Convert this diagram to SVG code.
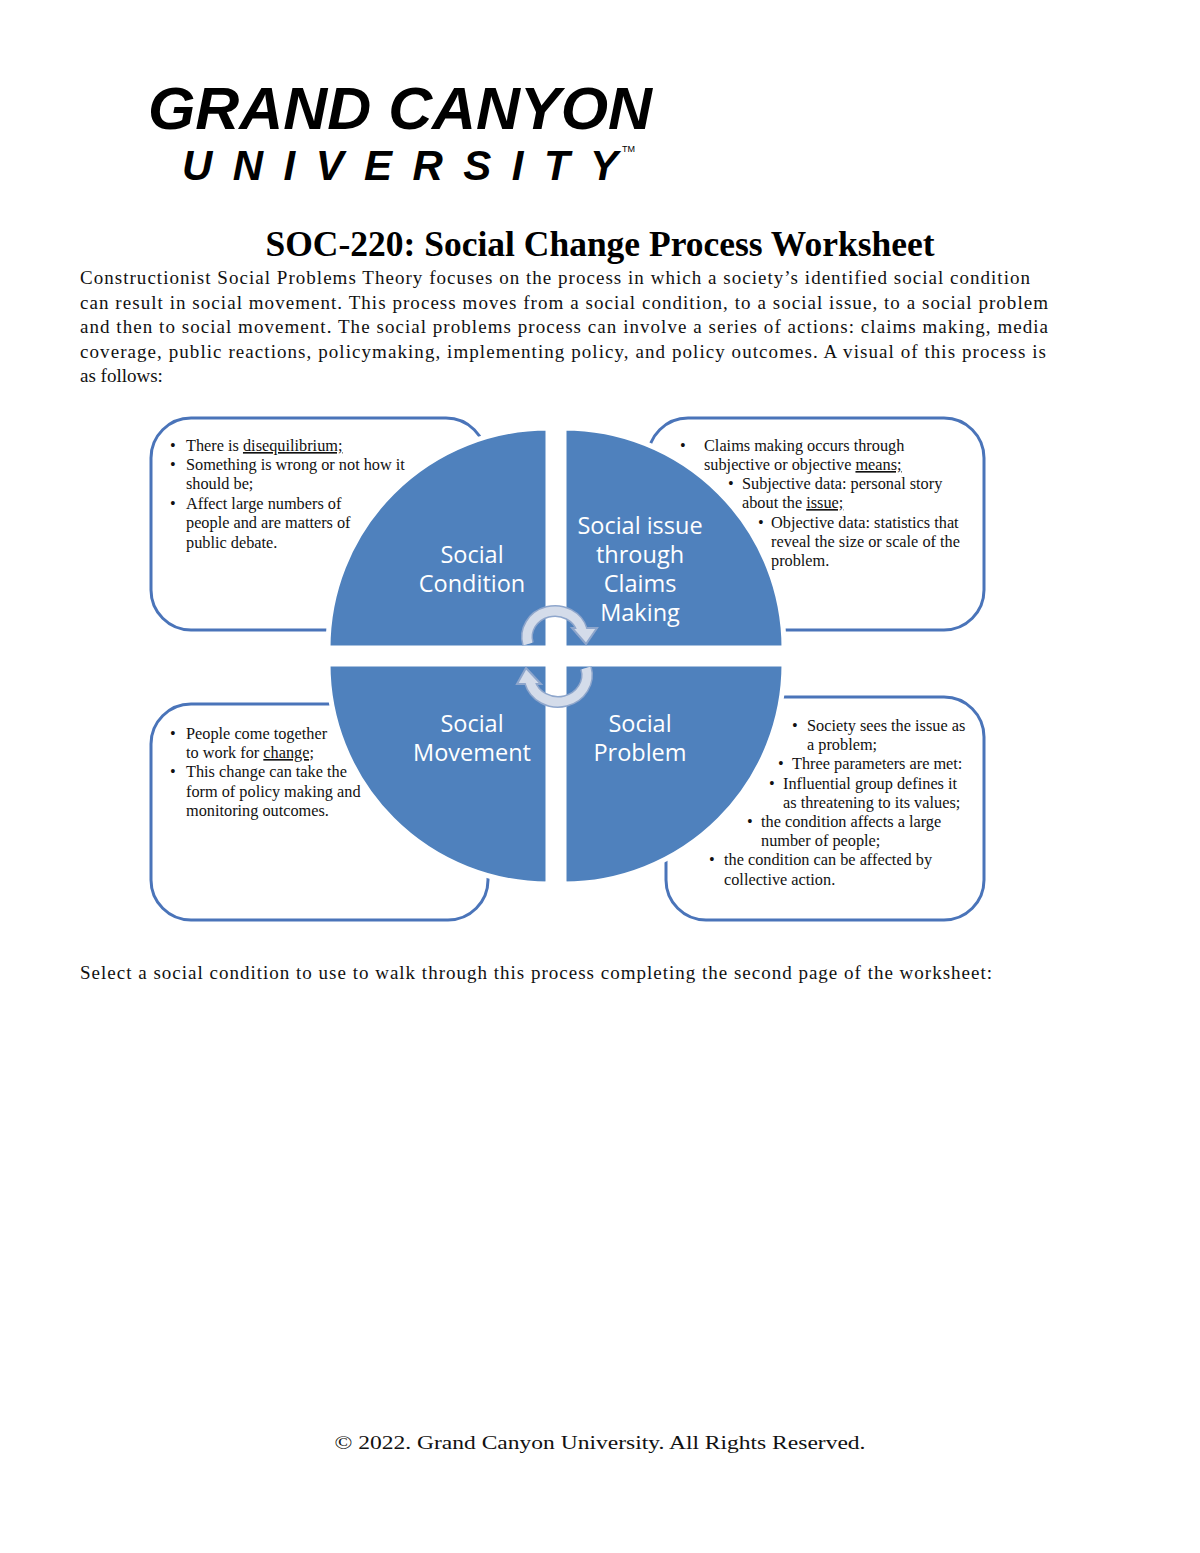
<svg xmlns="http://www.w3.org/2000/svg" width="1200" height="1553" viewBox="0 0 1200 1553">
<style>
.p{font-family:"Liberation Serif",serif;font-size:19px;fill:#111}
.b{font-family:"Liberation Serif",serif;font-size:16.3px;fill:#111}
.q{font-family:"Open Sans","Noto Sans",sans-serif;font-size:23.5px;fill:#fff;text-anchor:middle}
.box{fill:#fff;stroke:#4a74b9;stroke-width:3}
.quad{fill:#4f81bd;stroke:#fff;stroke-width:5}
.arr{fill:none;stroke:#d4dcea;stroke-width:9}
.arro{fill:none;stroke:#8ea6cc;stroke-width:12}
.u{text-decoration:underline}
</style>
<rect width="1200" height="1553" fill="#fff"/>
<g id="logo">
<text x="148" y="129" font-family="Liberation Sans,sans-serif" font-weight="bold" font-style="italic" font-size="60" textLength="504" lengthAdjust="spacingAndGlyphs">GRAND CANYON</text>
<text x="182" y="180" font-family="Liberation Sans,sans-serif" font-weight="bold" font-style="italic" font-size="42" textLength="436" lengthAdjust="spacing">UNIVERSITY</text>
<text x="622" y="152" font-family="Liberation Sans,sans-serif" font-size="9">TM</text>
</g>
<g id="header">
<text x="600" y="256" text-anchor="middle" font-family="Liberation Serif,serif" font-weight="bold" font-size="35" textLength="669" lengthAdjust="spacingAndGlyphs">SOC-220: Social Change Process Worksheet</text>
<text class="p" x="80" y="284" textLength="950" lengthAdjust="spacing">Constructionist Social Problems Theory focuses on the process in which a society’s identified social condition</text>
<text class="p" x="80" y="309" textLength="968" lengthAdjust="spacing">can result in social movement.  This process moves from a social condition, to a social issue, to a social problem</text>
<text class="p" x="80" y="333" textLength="968" lengthAdjust="spacing">and then to social movement. The social problems process can involve a series of actions: claims making, media</text>
<text class="p" x="80" y="358" textLength="966" lengthAdjust="spacing">coverage, public reactions, policymaking, implementing policy, and policy outcomes. A visual of this process is</text>
<text class="p" x="80" y="382">as follows:</text>
</g>
<g id="box-tl"><rect class="box" x="151" y="418" width="335" height="212" rx="40"/>
<text class="b"><tspan x="170" y="451">•</tspan><tspan x="186" y="451">There is <tspan class="u" fill="#111">disequilibrium;</tspan></tspan><tspan x="170" y="470">•</tspan><tspan x="186" y="470">Something is wrong or not how it</tspan><tspan x="186" y="489">should be;</tspan><tspan x="170" y="509">•</tspan><tspan x="186" y="509">Affect large numbers of</tspan><tspan x="186" y="528">people and are matters of</tspan><tspan x="186" y="548">public debate.</tspan></text></g>
<g id="box-tr"><rect class="box" x="648" y="418" width="336" height="212" rx="40"/>
<text class="b"><tspan x="680" y="451">•</tspan><tspan x="704" y="451">Claims making occurs through</tspan><tspan x="704" y="470">subjective or objective <tspan class="u">means;</tspan></tspan><tspan x="728" y="489">•</tspan><tspan x="742" y="489">Subjective data: personal story</tspan><tspan x="742" y="508">about the <tspan class="u">issue;</tspan></tspan><tspan x="758" y="528">•</tspan><tspan x="771" y="528">Objective data: statistics that</tspan><tspan x="771" y="547">reveal the size or scale of the</tspan><tspan x="771" y="566">problem.</tspan></text></g>
<g id="box-bl"><rect class="box" x="151" y="704" width="337" height="216" rx="40"/>
<text class="b"><tspan x="170" y="739">•</tspan><tspan x="186" y="739">People come together</tspan><tspan x="186" y="758">to work for <tspan class="u">change;</tspan></tspan><tspan x="170" y="777">•</tspan><tspan x="186" y="777">This change can take the</tspan><tspan x="186" y="797">form of policy making and</tspan><tspan x="186" y="816">monitoring outcomes.</tspan></text></g>
<g id="box-br"><rect class="box" x="666" y="697" width="318" height="223" rx="40"/>
<text class="b"><tspan x="792" y="731">•</tspan><tspan x="807" y="731">Society sees the issue as</tspan><tspan x="807" y="750">a problem;</tspan><tspan x="778" y="769">•</tspan><tspan x="792" y="769">Three parameters are met:</tspan><tspan x="769" y="789">•</tspan><tspan x="783" y="789">Influential group defines it</tspan><tspan x="783" y="808">as threatening to its values;</tspan><tspan x="747" y="827">•</tspan><tspan x="761" y="827">the condition affects a large</tspan><tspan x="761" y="846">number of people;</tspan><tspan x="709" y="865">•</tspan><tspan x="724" y="865">the condition can be affected by</tspan><tspan x="724" y="885">collective action.</tspan></text></g>
<g id="q-condition"><path class="quad" d="M548 648 V428 A220 220 0 0 0 328 648 Z"/><text class="q"><tspan x="472" y="563">Social</tspan><tspan x="472" y="592">Condition</tspan></text></g>
<g id="q-issue"><path class="quad" d="M564 648 V428 A220 220 0 0 1 784 648 Z"/><text class="q"><tspan x="640" y="534">Social issue</tspan><tspan x="640" y="563">through</tspan><tspan x="640" y="592">Claims</tspan><tspan x="640" y="621">Making</tspan></text></g>
<g id="q-movement"><path class="quad" d="M548 664 V884 A220 220 0 0 1 328 664 Z"/><text class="q"><tspan x="472" y="732">Social</tspan><tspan x="472" y="761">Movement</tspan></text></g>
<g id="q-problem"><path class="quad" d="M564 664 V884 A220 220 0 0 0 784 664 Z"/><text class="q"><tspan x="640" y="732">Social</tspan><tspan x="640" y="761">Problem</tspan></text></g>
<g id="connectors">
<path class="arro" d="M528 644 A28 26 0 0 1 582 630"/><path d="M572 628 L597 628 L586 644 Z" fill="#d4dcea" stroke="#8ea6cc" stroke-width="2"/>
<path class="arr" d="M528 644 A28 26 0 0 1 582 630"/>
<path class="arro" d="M586 668 A28 26 0 0 1 530 682"/><path d="M517 684 L541 684 L526 668 Z" fill="#d4dcea" stroke="#8ea6cc" stroke-width="2"/>
<path class="arr" d="M586 668 A28 26 0 0 1 530 682"/>
</g>
<g id="footer">
<text class="p" x="80" y="979" textLength="912" lengthAdjust="spacing">Select a social condition to use to walk through this process completing the second page of the worksheet:</text>
<text class="p" x="600" y="1449" text-anchor="middle" font-size="23" textLength="531" lengthAdjust="spacingAndGlyphs">© 2022. Grand Canyon University. All Rights Reserved.</text>
</g>
</svg>
